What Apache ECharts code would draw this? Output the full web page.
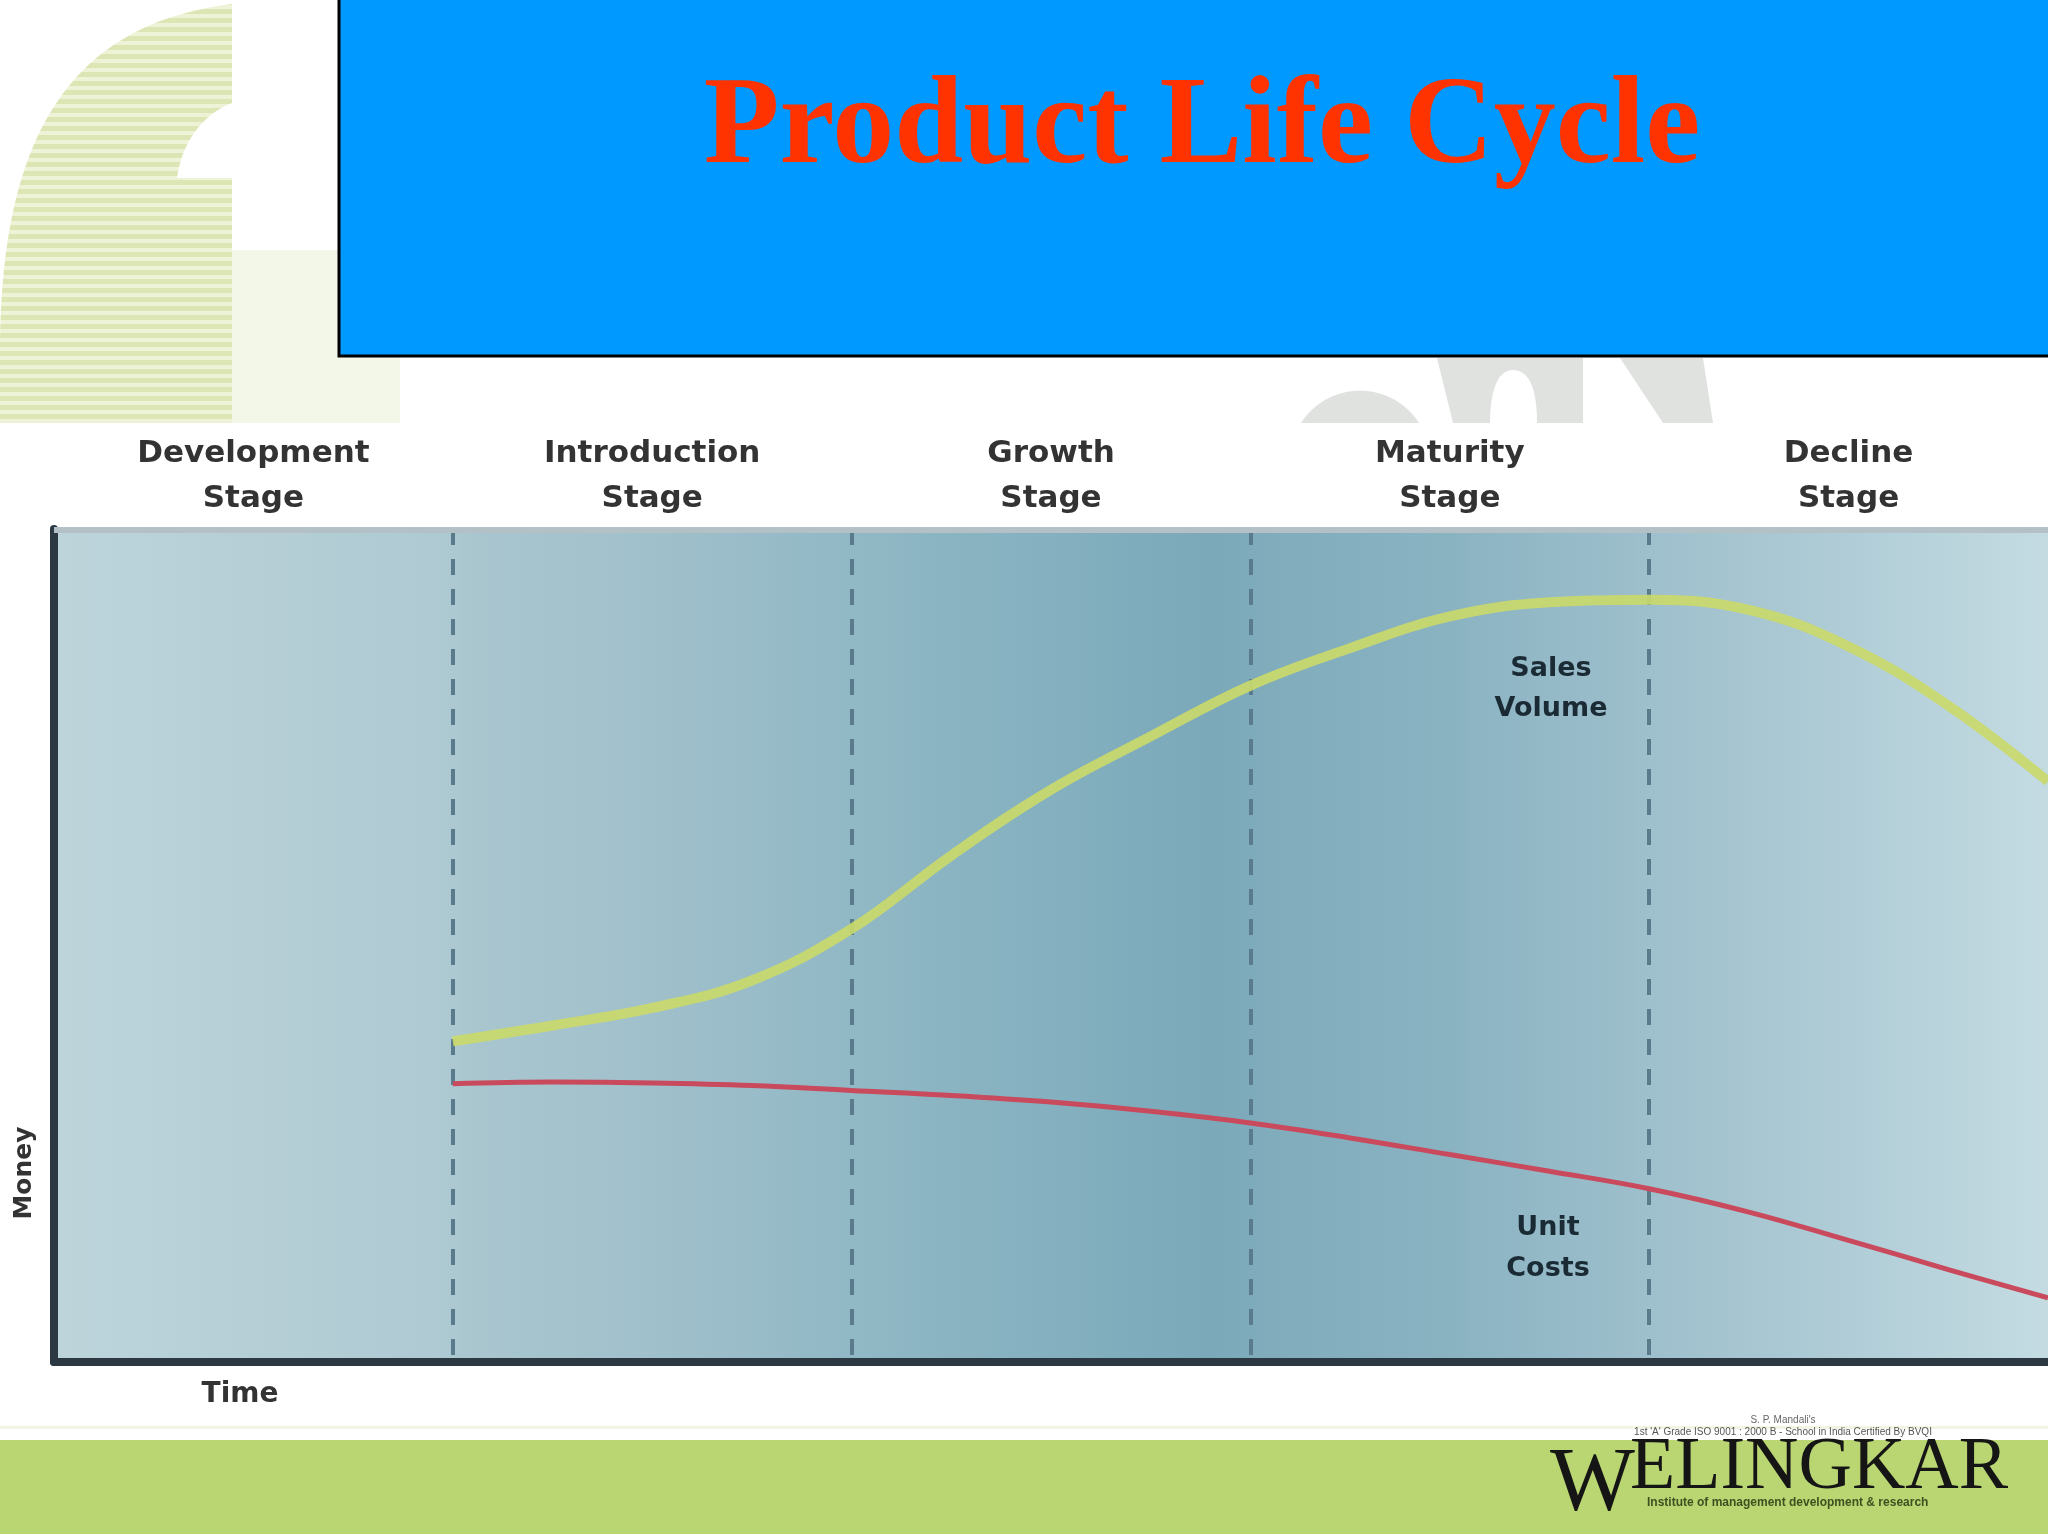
<!DOCTYPE html>
<html>
<head>
<meta charset="utf-8">
<script src="https://cdn.jsdelivr.net/npm/echarts@6/dist/echarts.min.js"></script>
<style>
  html, body { margin: 0; padding: 0; background: #ffffff; }
  #chart { width: 2048px; height: 1534px; }
</style>
</head>
<body>
<div id="chart"></div>
<script>
// ---- data ----
const stageLabels = ['Development\nStage', 'Introduction\nStage', 'Growth\nStage', 'Maturity\nStage', 'Decline\nStage'];
const salesX = [1.00, 1.25, 1.50, 1.75, 2.00, 2.25, 2.50, 2.75, 3.00, 3.25, 3.50, 3.75, 4.00, 4.25, 4.50, 4.75, 5.00];
const salesY = [38.5, 40.4, 42.5, 45.8, 52.0, 60.8, 68.7, 75.1, 81.2, 85.7, 89.5, 91.2, 91.5, 90.3, 85.9, 78.8, 69.7];
const costX = [1.00, 1.25, 1.50, 1.75, 2.00, 2.25, 2.50, 2.75, 3.00, 3.25, 3.50, 3.75, 4.00, 4.25, 4.50, 4.75, 5.00];
const costY = [33.4, 33.6, 33.5, 33.2, 32.6, 32.0, 31.2, 30.1, 28.7, 26.9, 24.9, 22.9, 20.8, 18.0, 14.6, 11.1, 7.7];
const titleText = 'Product Life Cycle';
const yAxisTitle = 'Money';
const xAxisTitle = 'Time';
const salesLabel = 'Sales\nVolume';
const costLabel = 'Unit\nCosts';

const salesData = salesX.map((x, i) => [x, salesY[i]]);
const costData = costX.map((x, i) => [x, costY[i]]);

// helpers for decorative shapes
function cubic(p0, p1, p2, p3, n) {
  const pts = [];
  for (let i = 1; i <= n; i++) {
    const t = i / n, u = 1 - t;
    pts.push([
      u*u*u*p0[0] + 3*u*u*t*p1[0] + 3*u*t*t*p2[0] + t*t*t*p3[0],
      u*u*u*p0[1] + 3*u*u*t*p1[1] + 3*u*t*t*p2[1] + t*t*t*p3[1]
    ]);
  }
  return pts;
}
const quotePts = [[232, 4]]
  .concat(cubic([232, 4], [60, 25], [3, 150], [0, 340], 40))
  .concat([[0, 423], [232, 423], [232, 178], [177, 178]])
  .concat(cubic([177, 178], [182, 140], [205, 113], [232, 103], 20));
const domePts = [];
for (let i = 0; i <= 40; i++) {
  const a0 = Math.atan2(-37.7, -59), a1 = Math.atan2(-37.7, 59);
  const a = a0 + (a1 - a0) * i / 40;
  domePts.push([1360 + 70 * Math.cos(a), 460.7 + 70 * Math.sin(a)]);
}
const pPts = [[1437, 358], [1583, 358], [1583, 423], [1537, 423]]
  .concat(cubic([1537, 423], [1537, 390], [1530, 370], [1513, 370], 12))
  .concat(cubic([1513, 370], [1497, 370], [1490, 392], [1490, 423], 12))
  .concat([[1453, 423]]);

// stripe pattern for decorative shape
const pc = document.createElement('canvas');
pc.width = 4; pc.height = 9;
const pctx = pc.getContext('2d');
pctx.fillStyle = '#eef3d7'; pctx.fillRect(0, 0, 4, 9);
pctx.fillStyle = '#dce6b5'; pctx.fillRect(0, 0, 4, 5);

const chart = echarts.init(document.getElementById('chart'), null, { renderer: 'canvas' });

const GL = 54, GT = 529, GB = 172;

const option = {
  backgroundColor: '#ffffff',
  animation: false,
  grid: {
    left: GL, right: 0, top: GT, bottom: GB,
    show: true, borderWidth: 0,
    backgroundColor: {
      type: 'linear', x: 0, y: 0, x2: 1, y2: 0,
      colorStops: [
        { offset: 0.00, color: '#bdd4db' },
        { offset: 0.19, color: '#afcad3' },
        { offset: 0.21, color: '#a9c6cf' },
        { offset: 0.30, color: '#a0c0cb' },
        { offset: 0.40, color: '#91b8c5' },
        { offset: 0.50, color: '#84b0bf' },
        { offset: 0.58, color: '#7ba9ba' },
        { offset: 0.61, color: '#80acbc' },
        { offset: 0.70, color: '#8ab3c2' },
        { offset: 0.80, color: '#9ebfcc' },
        { offset: 0.90, color: '#b0cdd7' },
        { offset: 1.00, color: '#c4dbe2' }
      ]
    }
  },
  xAxis: [
    {
      type: 'value', min: 0, max: 5, interval: 1,
      axisLine: { show: true, onZero: false, lineStyle: { color: '#2d3942', width: 8 } },
      axisTick: { show: false },
      axisLabel: { show: false },
      splitLine: {
        show: true, showMinLine: false, showMaxLine: false,
        lineStyle: { color: '#5a7b8c', width: 4, type: [16, 14] }
      }
    },
    {
      type: 'category', position: 'top', data: stageLabels, boundaryGap: true,
      axisLine: { show: false }, axisTick: { show: false },
      splitLine: { show: false },
      axisLabel: {
        interval: 0, margin: 8, color: '#333333',
        fontFamily: 'DejaVu Sans', fontWeight: 'bold', fontSize: 31, lineHeight: 45
      }
    }
  ],
  yAxis: {
    type: 'value', min: 0, max: 100,
    axisLine: { show: true, onZero: false, lineStyle: { color: '#2d3942', width: 8 } },
    axisTick: { show: false }, axisLabel: { show: false }, splitLine: { show: false }
  },
  series: [
    {
      name: 'Sales Volume', type: 'line', data: salesData, xAxisIndex: 0,
      smooth: 0.4, showSymbol: false, symbol: 'none',
      lineStyle: { color: '#c9d96b', width: 10, opacity: 0.92, cap: 'butt' },
      z: 3
    },
    {
      name: 'Unit Costs', type: 'line', data: costData, xAxisIndex: 0,
      smooth: 0.4, showSymbol: false, symbol: 'none',
      lineStyle: { color: '#c84a5c', width: 5, cap: 'butt' },
      z: 3
    }
  ],
  graphic: [
    { type: 'polygon', z: -5, silent: true, shape: { points: quotePts },
      style: { fill: { image: pc, repeat: 'repeat' } } },
    { type: 'rect', z: -5, silent: true, shape: { x: 232, y: 250, width: 168, height: 173 }, style: { fill: '#f3f7e7' } },
    { type: 'polygon', z: -5, silent: true, shape: { points: domePts }, style: { fill: '#e0e2e0' } },
    { type: 'polygon', z: -5, silent: true, shape: { points: pPts }, style: { fill: '#e0e2e0' } },
    { type: 'polygon', z: -5, silent: true, shape: { points: [[1620, 358], [1703, 358], [1713, 423], [1663, 423]] }, style: { fill: '#e0e2e0' } },
    { type: 'rect', z: 10, silent: true, shape: { x: 339, y: -4, width: 1715, height: 360 },
      style: { fill: '#0099ff', stroke: '#000000', lineWidth: 3 } },
    { type: 'text', z: 11, silent: true,
      style: { text: titleText, x: 1202, y: 130, align: 'center', verticalAlign: 'middle',
               font: 'bold 124px "Liberation Serif", "Times New Roman", serif', fill: '#ff3300' } },
    { type: 'rect', z: 1, silent: true, shape: { x: GL, y: 527, width: 2048 - GL, height: 6 }, style: { fill: '#b3c0c6' } },
    { type: 'text', z: 11, silent: true, x: 24, y: 1173, rotation: Math.PI / 2,
      style: { text: yAxisTitle, x: 0, y: 0, align: 'center', verticalAlign: 'middle',
               font: 'bold 25px "DejaVu Sans"', fill: '#333333' } },
    { type: 'text', z: 11, silent: true,
      style: { text: xAxisTitle, x: 240, y: 1395, align: 'center', verticalAlign: 'middle',
               font: 'bold 28px "DejaVu Sans"', fill: '#333333' } },
    { type: 'text', z: 11, silent: true,
      style: { text: salesLabel, x: 1551, y: 689, align: 'center', verticalAlign: 'middle', lineHeight: 40,
               font: 'bold 27px "DejaVu Sans"', fill: '#1b2b35' } },
    { type: 'text', z: 11, silent: true,
      style: { text: costLabel, x: 1548, y: 1248, align: 'center', verticalAlign: 'middle', lineHeight: 41,
               font: 'bold 27px "DejaVu Sans"', fill: '#1b2b35' } },
    { type: 'rect', z: -5, silent: true, shape: { x: 0, y: 1426, width: 2048, height: 3 }, style: { fill: '#f1f5e2' } },
    { type: 'rect', z: -5, silent: true, shape: { x: 0, y: 1440, width: 2048, height: 94 }, style: { fill: '#b9d673' } },
    { type: 'text', z: 11, silent: true,
      style: { text: "S. P. Mandali's", x: 1783, y: 1420, align: 'center', verticalAlign: 'middle',
               font: '10px "Liberation Sans"', fill: '#666666' } },
    { type: 'text', z: 11, silent: true,
      style: { text: "1st 'A' Grade ISO 9001 : 2000 B - School in India Certified By BVQI", x: 1783, y: 1432, align: 'center', verticalAlign: 'middle',
               font: '10px "Liberation Sans"', fill: '#555555' } },
    { type: 'text', z: 11, silent: true,
      style: { text: 'W', x: 1550, y: 1486, align: 'left', verticalAlign: 'middle',
               font: '90px "Liberation Serif"', fill: '#151515' } },
    { type: 'text', z: 11, silent: true,
      style: { text: 'ELINGKAR', x: 1630, y: 1469, align: 'left', verticalAlign: 'middle',
               font: '74px "Liberation Serif"', fill: '#151515' } },
    { type: 'text', z: 11, silent: true,
      style: { text: 'Institute of management development & research', x: 1647, y: 1503, align: 'left', verticalAlign: 'middle',
               font: 'bold 12px "Liberation Sans"', fill: '#3d5020' } }
  ]
};

chart.setOption(option);
</script>
</body>
</html>
